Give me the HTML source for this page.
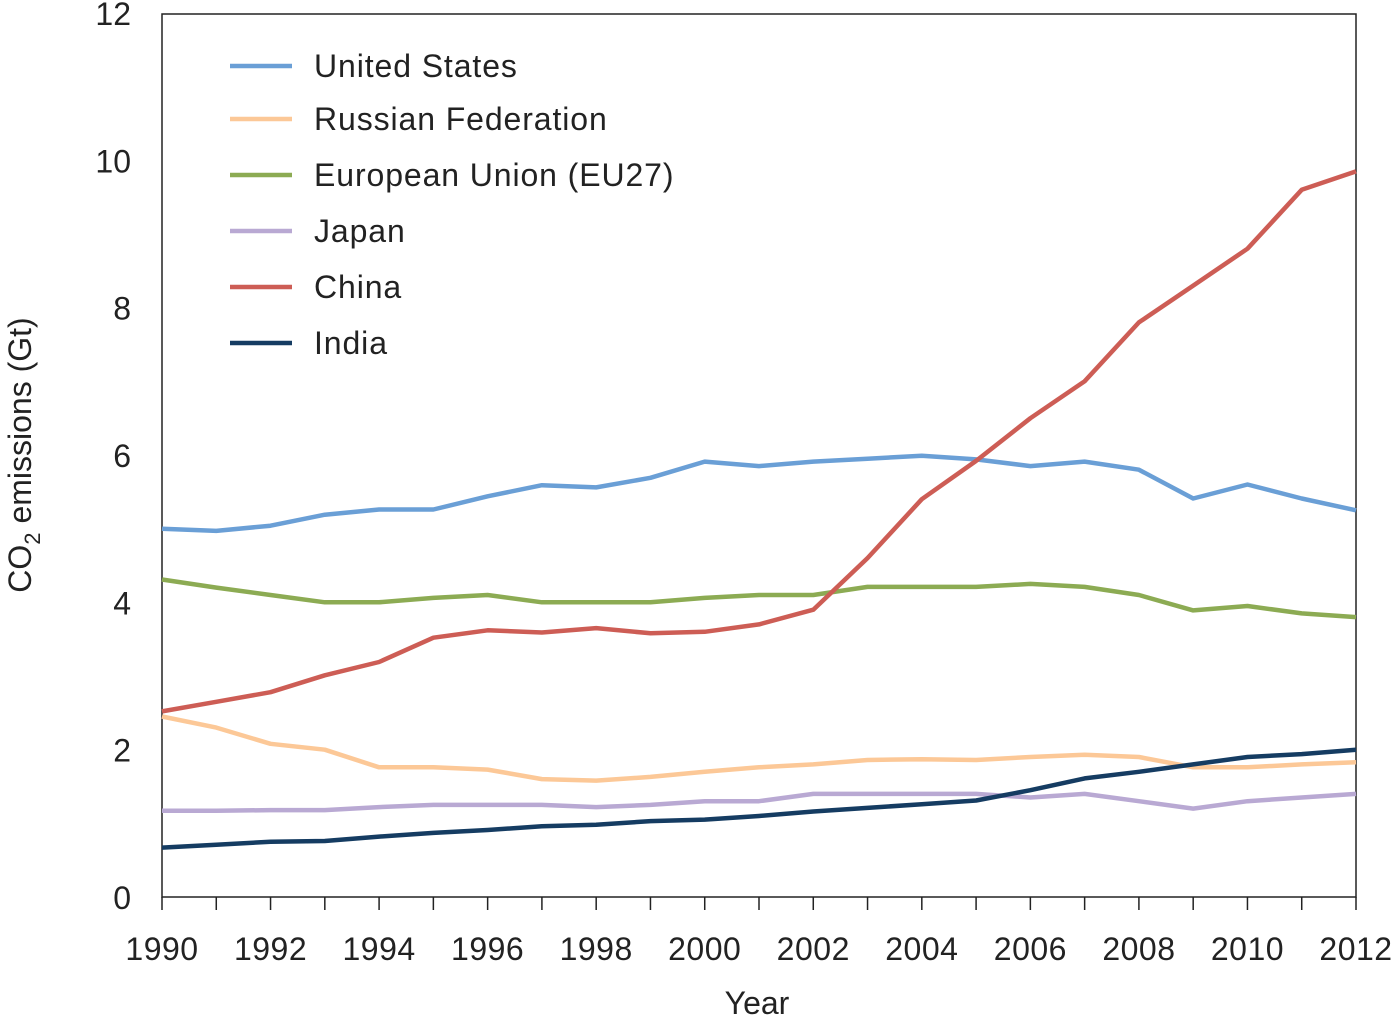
<!DOCTYPE html>
<html><head><meta charset="utf-8"><style>
html,body{margin:0;padding:0;background:#fff;}
svg{display:block;font-family:"Liberation Sans",sans-serif;}
</style></head><body>
<svg id="chart" width="1395" height="1019" viewBox="0 0 1395 1019" xmlns="http://www.w3.org/2000/svg"></svg>
<script>
const years = [1990,1991,1992,1993,1994,1995,1996,1997,1998,1999,2000,2001,2002,2003,2004,2005,2006,2007,2008,2009,2010,2011,2012];
const usValues = [5.0,4.97,5.04,5.19,5.26,5.26,5.44,5.59,5.56,5.69,5.91,5.85,5.91,5.95,5.99,5.94,5.85,5.91,5.8,5.41,5.6,5.41,5.25];
const russiaValues = [2.45,2.3,2.08,2.0,1.76,1.76,1.73,1.6,1.58,1.63,1.7,1.76,1.8,1.86,1.87,1.86,1.9,1.93,1.9,1.76,1.76,1.8,1.83];
const euValues = [4.31,4.2,4.1,4.0,4.0,4.06,4.1,4.0,4.0,4.0,4.06,4.1,4.1,4.21,4.21,4.21,4.25,4.21,4.1,3.89,3.95,3.85,3.8];
const japanValues = [1.17,1.17,1.18,1.18,1.22,1.25,1.25,1.25,1.22,1.25,1.3,1.3,1.4,1.4,1.4,1.4,1.35,1.4,1.3,1.2,1.3,1.35,1.4];
const chinaValues = [2.52,2.65,2.78,3.01,3.19,3.52,3.62,3.59,3.65,3.58,3.6,3.7,3.9,4.6,5.4,5.92,6.5,7.0,7.8,8.3,8.8,9.6,9.85];
const indiaValues = [0.67,0.71,0.75,0.76,0.82,0.87,0.91,0.96,0.98,1.03,1.05,1.1,1.16,1.21,1.26,1.31,1.45,1.61,1.7,1.8,1.9,1.94,2.0];
const seriesNames = ["United States","Russian Federation","European Union (EU27)","Japan","China","India"];
const yTicks = [0,2,4,6,8,10,12];
const xTickLabels = [1990,1992,1994,1996,1998,2000,2002,2004,2006,2008,2010,2012];

const svg = document.getElementById('chart');
const NS = 'http://www.w3.org/2000/svg';
const L=162,R=1356,T=13,B=897;
const x = y => L + (y-1990)/(2012-1990)*(R-L);
const yS = v => B - v/12*(B-T);
function mk(tag, attrs, parent){const e=document.createElementNS(NS,tag);for(const k in attrs)e.setAttribute(k,attrs[k]);(parent||svg).appendChild(e);return e;}

const frame = mk('rect',{x:L,y:T+1,width:R-L,height:B-T-1,fill:'none',stroke:'#222','stroke-width':1.5});



years.forEach(yr=>{
  const t = mk('line',{x1:x(yr),x2:x(yr),y1:B,y2:B+13,stroke:'#222','stroke-width':1.5});
  
  
});
xTickLabels.forEach(yr=>{
  const t = mk('text',{x:x(yr),y:960,'text-anchor':'middle','font-size':32,fill:'#222','letter-spacing':0.5});
  t.textContent = yr;
  
  
});
yTicks.forEach(v=>{
  const t = mk('text',{x:131,y:yS(v)+12,'text-anchor':'end','font-size':32,fill:'#222'});
  t.textContent = v;
  
  
});
const xt = mk('text',{x:757,y:1014,'text-anchor':'middle','font-size':32,fill:'#222'});
xt.textContent='Year';


const yt = mk('text',{x:0,y:0,'text-anchor':'middle','font-size':32,fill:'#222',transform:'translate(31,455) rotate(-90)'});
yt.innerHTML='CO<tspan font-size="22" dy="9">2</tspan><tspan dy="-9"> emissions (Gt)</tspan>';



const allValues=[usValues,russiaValues,euValues,japanValues,chinaValues,indiaValues];
const colors=['#6a9fd6','#fcc897','#8cab53','#b9a9d3','#cd5d55','#153c62'];
const legendY=[66,119,175,231,287,343];
allValues.forEach((vals,i)=>{
  const d = vals.map((v,j)=>(j?'L':'M')+x(years[j]).toFixed(1)+','+yS(v).toFixed(1)).join(' ');
  const p = mk('path',{d:d,fill:'none',stroke:colors[i],'stroke-width':4.5,'stroke-linejoin':'round'});
  
  
});
allValues.forEach((vals,i)=>{
  const g = mk('g',{});
  
  
  mk('line',{x1:230,x2:292,y1:legendY[i],y2:legendY[i],stroke:colors[i],'stroke-width':4.5},g);
  const t = mk('text',{x:314,y:legendY[i]+11,'font-size':32,fill:'#222','letter-spacing':0.9},g);
  t.textContent=seriesNames[i];
});
</script>
</body></html>
